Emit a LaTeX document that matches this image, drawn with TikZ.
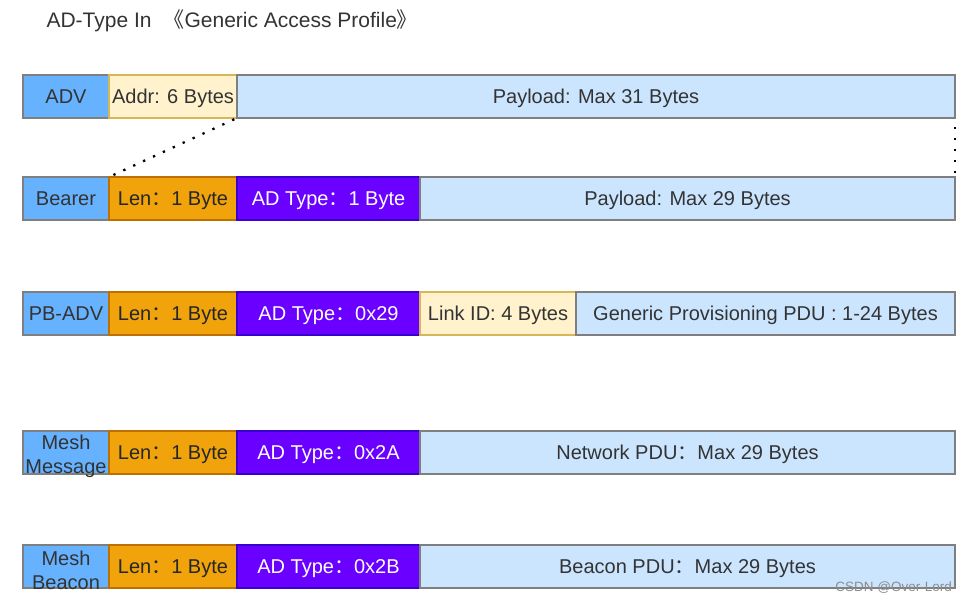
\documentclass[tikz,border=0pt]{standalone}
\usepackage{fontspec}
\setmainfont{Liberation Sans}
\newfontfamily\cjk{Noto Sans CJK SC}
\definecolor{advblue}{HTML}{66B2FF}
\definecolor{paybl}{HTML}{CCE5FF}
\definecolor{addrf}{HTML}{FFF2CC}
\definecolor{addrd}{HTML}{D6B656}
\definecolor{lenf}{HTML}{F0A30A}
\definecolor{lend}{HTML}{BD7000}
\definecolor{adf}{HTML}{6A00FF}
\definecolor{add}{HTML}{3700CC}
\definecolor{grayd}{HTML}{7F7F7F}
\definecolor{txt}{HTML}{333333}
\newcommand{\fc}{{\cjk ：}}
\begin{document}
\begin{tikzpicture}[x=1pt,y=-1pt,
  fld/.style={draw, line width=1.3pt, anchor=north west, inner sep=0pt, outer sep=0pt,
    minimum height=43pt, font=\fontsize{20}{24}\selectfont, align=center,
    text height=16pt, text depth=2pt},
  two/.style={label={[font=\fontsize{20}{24}\selectfont, align=center, text=txt, inner sep=0pt, yshift=-4pt]center:#1}},
  hdr/.style={fld, fill=advblue, draw=grayd, text=txt},
  pay/.style={fld, fill=paybl, draw=grayd, text=txt},
  yel/.style={fld, fill=addrf, draw=addrd, text=txt},
  lenbox/.style={fld, fill=lenf, draw=lend, text=black!85},
  adbox/.style={fld, fill=adf, draw=add, text=white},
  dotline/.style={line width=2.3pt, dash pattern=on 2.3pt off 8.6pt, line cap=butt}
]
\useasboundingbox (0,0) rectangle (969,603);
\node[anchor=west, font=\fontsize{21}{26}\selectfont, text=txt] (title) at (43,21)
  {AD-Type In\hspace{12pt}{\cjk 《}Generic Access Profile{\cjk 》}};

% row 1
\node[hdr, minimum width=86pt] (adv) at (23,75) {ADV};
\node[yel, minimum width=128pt] (addr) at (109,75) {Addr: 6 Bytes};
\node[pay, minimum width=718pt] (pay1) at (237,75) {Payload: Max 31 Bytes};

% row 2
\node[hdr, minimum width=86pt] (bearer) at (23,177) {Bearer};
\node[lenbox, minimum width=128pt] (len2) at (109,177) {Len\fc1 Byte};
\node[adbox, minimum width=183pt] (ad2) at (237,177) {AD Type\fc1 Byte};
\node[pay, minimum width=535pt] (pay2) at (420,177) {Payload: Max 29 Bytes};

% row 3
\node[hdr, minimum width=86pt] (pbadv) at (23,292) {PB-ADV};
\node[lenbox, minimum width=128pt] (len3) at (109,292) {Len\fc1 Byte};
\node[adbox, minimum width=183pt] (ad3) at (237,292) {AD Type\fc 0x29};
\node[yel, minimum width=156pt] (link) at (420,292) {Link ID: 4 Bytes};
\node[pay, minimum width=379pt] (gpp) at (576,292) {Generic Provisioning PDU : 1-24 Bytes};

% row 4
\node[hdr, two={Mesh\\Message}, minimum width=86pt] (mmsg) at (23,431) {};
\node[lenbox, minimum width=128pt] (len4) at (109,431) {Len\fc1 Byte};
\node[adbox, minimum width=183pt] (ad4) at (237,431) {AD Type\fc 0x2A};
\node[pay, minimum width=535pt] (net) at (420,431) {Network PDU\fc Max 29 Bytes};

% row 5
\node[hdr, two={Mesh\\Beacon}, minimum width=86pt] (mbcn) at (23,545) {};
\node[lenbox, minimum width=128pt] (len5) at (109,545) {Len\fc1 Byte};
\node[adbox, minimum width=183pt] (ad5) at (237,545) {AD Type\fc 0x2B};
\node[pay, minimum width=535pt] (bcn) at (420,545) {Beacon PDU\fc Max 29 Bytes};

% dotted connectors
\draw[dotline, shorten <=3pt] (addr.south east) -- (bearer.north east);
\draw[dotline, shorten <=9pt, shorten >=3pt] (pay1.south east) -- (pay2.north east);

\node[anchor=south east, font=\fontsize{13.5}{16}\selectfont, text=black!45, inner sep=0pt] (wm) at (952,594) {CSDN @Over-Lord};
\end{tikzpicture}
\end{document}
